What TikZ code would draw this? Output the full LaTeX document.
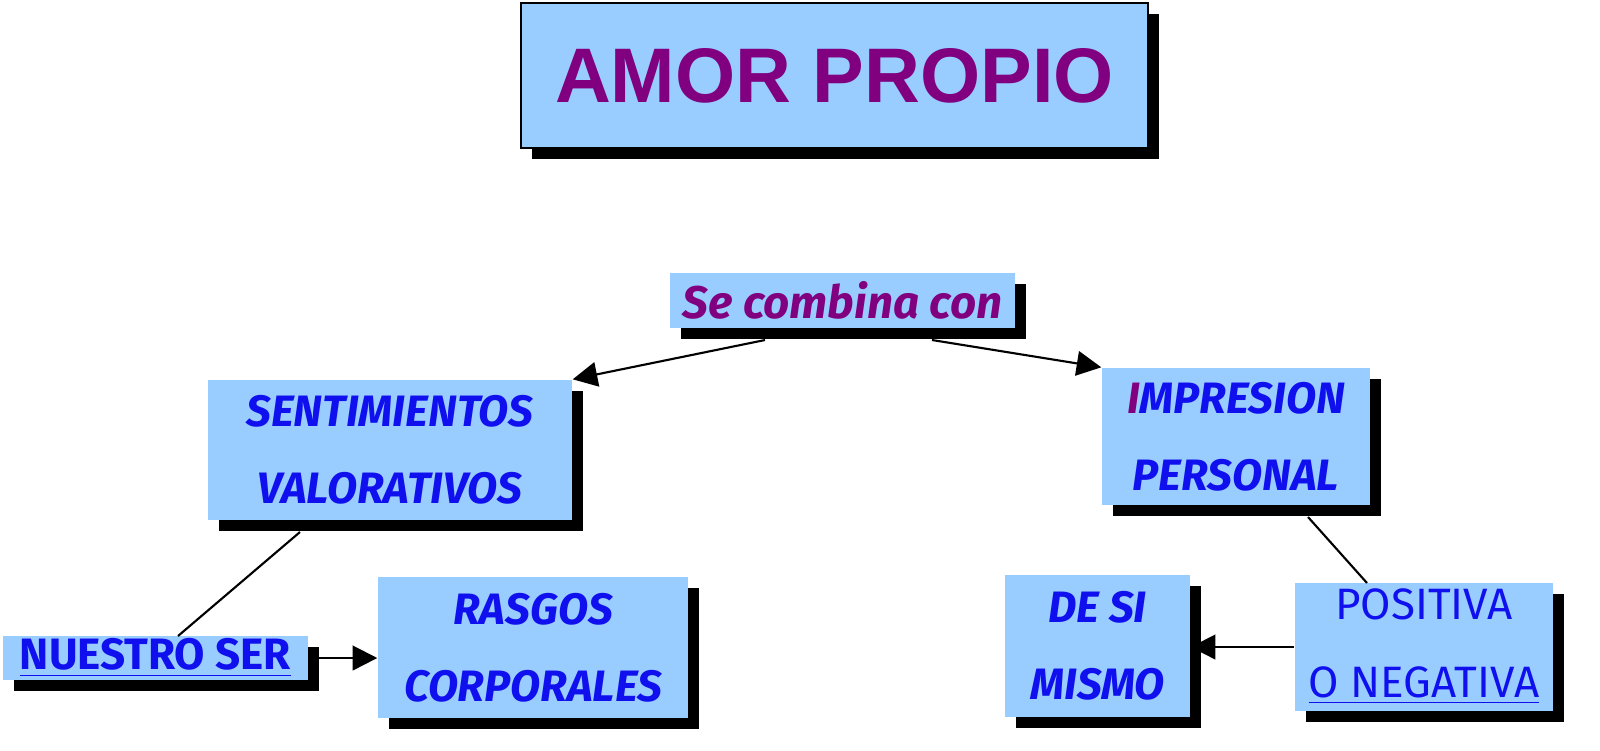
\documentclass[tikz,border=0pt]{standalone}
\usepackage{fontspec}
\setmainfont{Fira Sans}
\newfontfamily\titlefont{Liberation Sans}
\usetikzlibrary{arrows.meta,shadows}
\definecolor{boxblue}{HTML}{99CCFF}
\definecolor{purp}{HTML}{800080}
\definecolor{txtblue}{HTML}{1010EE}
\begin{document}
\begin{tikzpicture}[x=0.01cm,y=-0.01cm,
  bx/.style={fill=boxblue,inner sep=0pt,drop shadow={shadow xshift=0.11cm,shadow yshift=-0.11cm,fill=black,opacity=1}},
  lbl/.style={font=\fontsize{12.5}{22}\selectfont\bfseries\itshape,text=txtblue,align=center},
  con/.style={draw=black,line width=0.6pt},
  arr/.style={con,-{Triangle[length=7pt,width=7pt]}}]
\useasboundingbox (0,0) rectangle (1600,750);
\node[bx,draw=black,line width=0.8pt,minimum width=627*0.01cm,minimum height=145*0.01cm] (title) at (834.5,75.5) {};
\node[font=\titlefont\fontsize{22}{26}\selectfont\bfseries,text=purp] at (title) {AMOR PROPIO};
\node[bx,minimum width=345*0.01cm,minimum height=55*0.01cm] (se) at (842.5,300.5) {};
\node[font=\fontsize{13}{16}\selectfont\bfseries\itshape,text=purp] at (se) {Se combina con};
\node[bx,minimum width=364*0.01cm,minimum height=140*0.01cm] (sent) at (390,450) {};
\node[lbl] at (sent) {SENTIMIENTOS\\VALORATIVOS};
\node[bx,minimum width=268*0.01cm,minimum height=137*0.01cm] (imp) at (1236,436.5) {};
\node[lbl] at (imp) {{\color{purp}I}MPRESION\\PERSONAL};
\node[bx,minimum width=310*0.01cm,minimum height=141*0.01cm] (ras) at (533,647.5) {};
\node[lbl] at (ras) {RASGOS\\CORPORALES};
\node[bx,minimum width=185*0.01cm,minimum height=142*0.01cm] (desi) at (1097.5,646) {};
\node[lbl] at (desi) {DE SI\\MISMO};
\node[bx,minimum width=258*0.01cm,minimum height=128*0.01cm] (pos) at (1424,647) {};
\node[font=\fontsize{12.5}{22}\selectfont,text=txtblue,align=center] at (pos) {POSITIVA\\\underline{O NEGATIVA}};
\node[bx,minimum width=305*0.01cm,minimum height=44*0.01cm] (nue) at (155.5,658) {};
\node[font=\fontsize{12.5}{16}\selectfont\bfseries,text=txtblue] at (nue) {\underline{NUESTRO SER}};
\draw[arr] (765,340) -- (sent.north east);
\draw[arr] (932,340) -- (imp.north west);
\draw[con] (300,532) -- (178,636);
\draw[arr] (nue.east) -- (ras.west |- nue.east);
\draw[con] (1308,517) -- (1367,583);
\draw[arr] (pos.west) -- (desi.east |- pos.west) ;
\end{tikzpicture}
\end{document}
